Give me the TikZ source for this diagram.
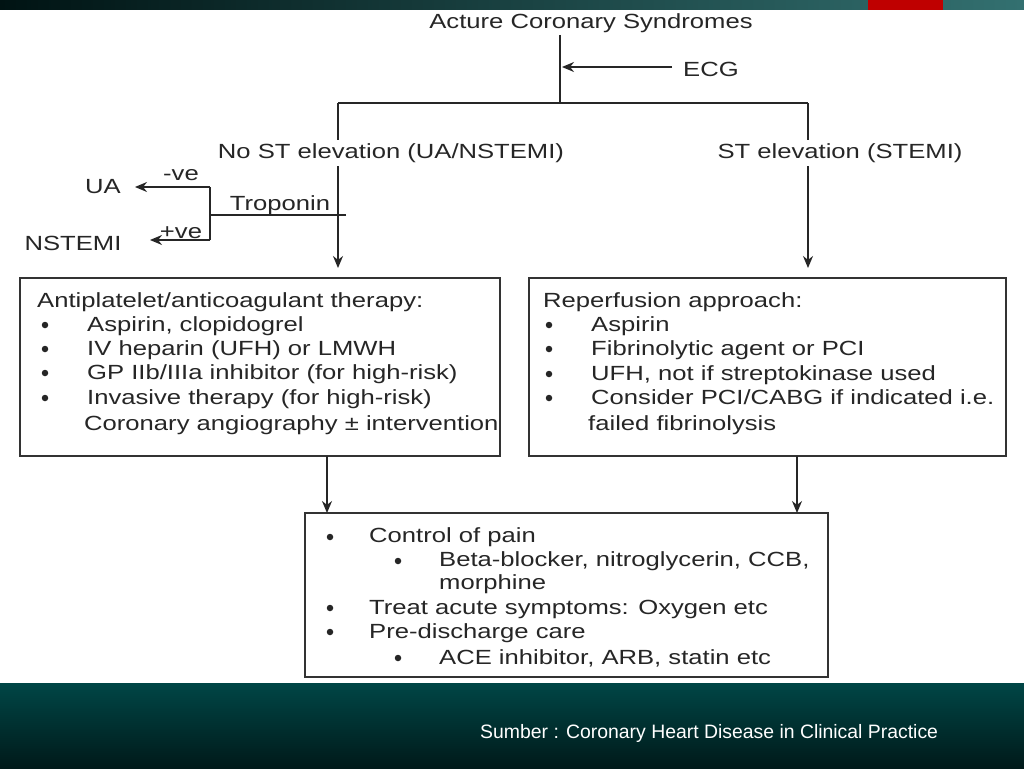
\documentclass[tikz,border=0pt]{standalone}
\usepackage{fontspec}
\setmainfont{Liberation Sans}[FakeStretch=1.25]
\newfontfamily\plainsans{Liberation Sans}
\usetikzlibrary{arrows.meta,shadings}
\begin{document}
\begin{tikzpicture}[x=1pt,y=-1pt,
  f/.style={inner sep=0pt,font=\fontsize{20.5}{24}\selectfont,text=black!85},
  t/.style={f,anchor=base west},
  box/.style={draw=black!80,line width=1.2pt,inner sep=0pt},
  ln/.style={draw=black!85,line width=1.3pt},
  ar/.style={ln,-{Stealth[length=12pt,width=10pt]}},
  bul/.style={circle,fill=black!85,inner sep=0pt,minimum size=6.5pt}]
\useasboundingbox (0,0) rectangle (1024,768);
\fill[white] (0,0) rectangle (1024,768);
\shade[left color=black!85!teal,right color=teal!60!black!80] (0,0) rectangle (1024,10);
\fill[red!75!black] (868,0) rectangle (943,10);
\shade[top color=teal!55!black,bottom color=black!80!teal] (0,683) rectangle (1024,768);
\node[inner sep=0pt,anchor=west,text=white,font=\plainsans\fontsize{19.4}{21}\selectfont] (src) at (480,733) {Sumber : Coronary Heart Disease in Clinical Practice};

% title
\node[f] (acs) at (591,23) {Acture Coronary Syndromes};
\coordinate (top) at (560,35);
\coordinate (split) at (560,103);
\draw[ln] (top) -- (split);
\node[f] (ecg) at (711,69) {ECG};
\coordinate (ecgs) at (672,67);
\coordinate (ecge) at (562,67);
\draw[ar] (ecgs) -- (ecge);
\coordinate (lt) at (338,103);
\coordinate (rt) at (808,103);
\draw[ln] (lt) -- (rt);
\node[f] (nst) at (391,153) {No ST elevation (UA/NSTEMI)};
\node[f] (st) at (840,153) {ST elevation (STEMI)};
\coordinate (l1) at (338,140); \coordinate (l2) at (338,166); \coordinate (l3) at (338,268);
\coordinate (r1) at (808,140); \coordinate (r2) at (808,166); \coordinate (r3) at (808,268);
\draw[ln] (lt) -- (l1); \draw[ar] (l2) -- (l3);
\draw[ln] (rt) -- (r1); \draw[ar] (r2) -- (r3);

% troponin
\coordinate (tr) at (346,215); \coordinate (tl) at (210,215);
\coordinate (tu) at (210,187); \coordinate (td) at (210,240);
\coordinate (uae) at (135,187); \coordinate (nse) at (150,240);
\draw[ln] (tr) -- (tl); \draw[ln] (tu) -- (td);
\node[f] (trop) at (280,205) {Troponin};
\node[f] (ua) at (103,187) {UA};
\node[f] (nstemi) at (73,243) {NSTEMI};
\draw[ar] (tu) -- (uae);
\draw[ar] (td) -- (nse);
\node[f] (neg) at (181,175) {-ve};
\node[f] (pos) at (181,233) {+ve};

% boxes
\node[box,minimum width=480pt,minimum height=178pt] (lb) at (260,367) {};
\node[box,minimum width=477pt,minimum height=178pt] (rb) at (767.5,367) {};
\node[box,minimum width=523pt,minimum height=164pt] (bb) at (566.5,595) {};
\coordinate (la) at (327,456); \coordinate (lb2) at (327,513);
\coordinate (ra) at (797,456); \coordinate (rb2) at (797,513);
\draw[ar] (la) -- (lb2); \draw[ar] (ra) -- (rb2);

% left box text
\node[t] (L0) at (37,307) {Antiplatelet/anticoagulant therapy:};
\node[t] (L1) at (87,331) {Aspirin, clopidogrel};
\node[t] (L2) at (87,355) {IV heparin (UFH) or LMWH};
\node[t] (L3) at (87,379) {GP IIb/IIIa inhibitor (for high-risk)};
\node[t] (L4) at (87,404) {Invasive therapy (for high-risk)};
\node[t] (L5) at (84,430) {Coronary angiography ± intervention};
\foreach \y/\n in {325/a,349/b,373/c,398/d} \node[bul] (lb\n) at (45,\y) {};

% right box text
\node[t] (R0) at (543,307) {Reperfusion approach:};
\node[t] (R1) at (591,331) {Aspirin};
\node[t] (R2) at (591,355) {Fibrinolytic agent or PCI};
\node[t] (R3) at (591,380) {UFH, not if streptokinase used};
\node[t] (R4) at (591,404) {Consider PCI/CABG if indicated i.e.};
\node[t] (R5) at (588,430) {failed fibrinolysis};
\foreach \y/\n in {325/a,349/b,374/c,398/d} \node[bul] (rb\n) at (549,\y) {};

% bottom box text
\node[t] (B1) at (369,542) {Control of pain};
\node[t] (B2) at (439,566) {Beta-blocker, nitroglycerin, CCB,};
\node[t] (B3) at (439,589) {morphine};
\node[t] (B4) at (369,614) {Treat acute symptoms: Oxygen etc};
\node[t] (B5) at (369,638) {Pre-discharge care};
\node[t] (B6) at (439,664) {ACE inhibitor, ARB, statin etc};
\foreach \x/\y/\n in {330/537/a,398/561/b,330/608/c,330/632/d,398/658/e} \node[bul] (bb\n) at (\x,\y) {};
\end{tikzpicture}
\end{document}
